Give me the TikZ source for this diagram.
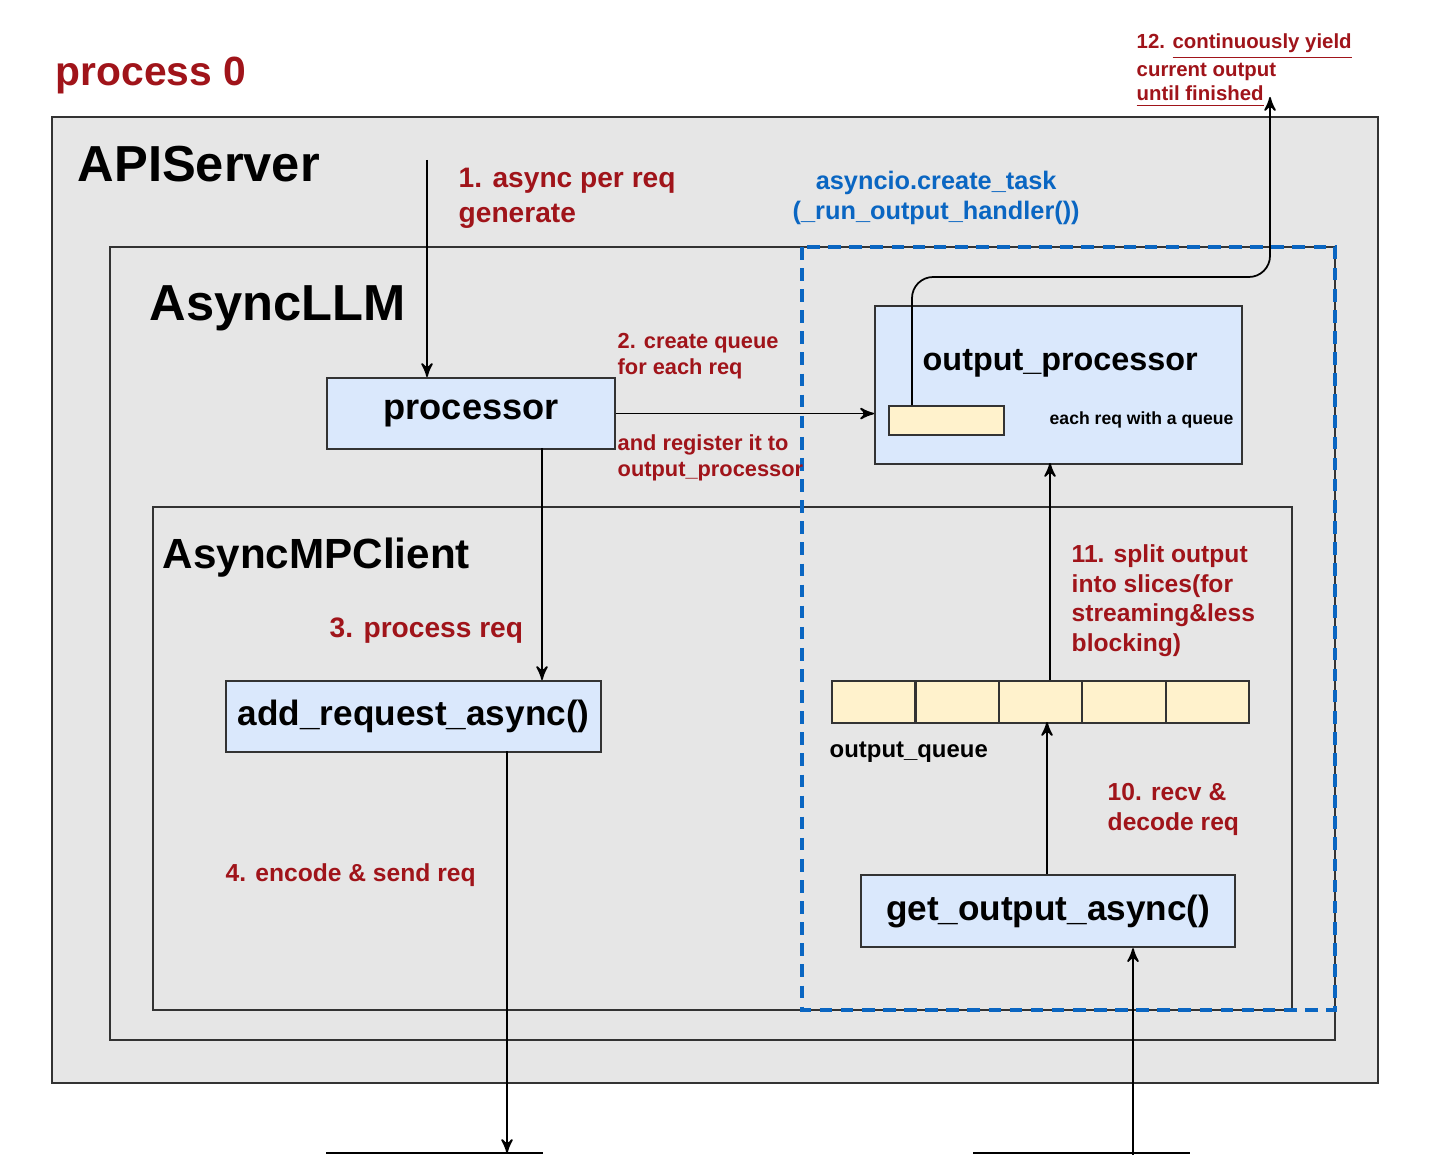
\documentclass[tikz,border=0pt]{standalone}
\usepackage{fontspec}
\setmainfont{Liberation Sans}
\usetikzlibrary{positioning, arrows}
\definecolor{darkred}{HTML}{A0141A}
\definecolor{linkblue}{HTML}{0A66C2}
\definecolor{boxblue}{HTML}{DAE8FC}
\definecolor{cellyellow}{HTML}{FFF2CC}
\definecolor{panelgray}{HTML}{E6E6E6}
\tikzset{
  panel/.style={draw=black!80, fill=panelgray, line width=0.6pt},
  block/.style={draw=black!80, fill=boxblue, line width=0.6pt, inner sep=0pt},
  cell/.style={draw=black!80, fill=cellyellow, line width=0.6pt, minimum width=0.834cm, minimum height=0.42cm, inner sep=0pt},
  note/.style={text=darkred, font=\bfseries, align=left, anchor=north west, inner sep=0pt},
  flow/.style={->, >=stealth', line width=0.5pt}
}
\begin{document}
\begin{tikzpicture}[x=0.01cm, y=-0.01cm]
\useasboundingbox (0,0) rectangle (1440,1155);
\fill[white] (0,0) rectangle (1440,1155);
\node[note, font=\bfseries\fontsize{11.6}{13}\selectfont] (title) at (55,56) {process 0};
\draw[panel] (52,117) rectangle (1378,1083);
\draw[panel] (110,247) rectangle (1335,1040);
\draw[panel] (153,507) rectangle (1292,1010);
\draw[linkblue, dash pattern=on 3.6pt off 2.4pt, line width=1.1pt] (802,247) rectangle (1335,1010);
\node[anchor=north west, inner sep=0pt, font=\bfseries\fontsize{14.4}{16}\selectfont] (api) at (77,145) {APIServer};
\node[anchor=north west, inner sep=0pt, font=\bfseries\fontsize{14.4}{16}\selectfont] (llm) at (149,285) {AsyncLLM};
\node[anchor=north west, inner sep=0pt, font=\bfseries\fontsize{12}{14}\selectfont] (mpc) at (162,537) {AsyncMPClient};
% blocks
\node[block, minimum width=2.88cm, minimum height=0.71cm, anchor=north west, font=\bfseries\fontsize{10.3}{12}\selectfont] (processor) at (326,377) {processor};
\node[block, minimum width=3.67cm, minimum height=1.58cm, anchor=north west] (outproc) at (874,305) {};
\node[anchor=north west, inner sep=0pt, font=\bfseries\fontsize{9.2}{11}\selectfont] (outproclabel) at (922,349) {output\_processor};
\node[cell, minimum width=1.15cm, minimum height=0.29cm, anchor=north west] (slot) at (888,405) {};
\node[anchor=west, inner sep=0pt, font=\bfseries\fontsize{5}{6}\selectfont] (slotlabel) at (1049,420) {each req with a queue};
\node[block, minimum width=3.75cm, minimum height=0.71cm, anchor=north west, font=\bfseries\fontsize{10}{12}\selectfont] (addreq) at (225,680) {add\_request\_async()};
\node[block, minimum width=3.74cm, minimum height=0.72cm, anchor=north west, font=\bfseries\fontsize{10}{12}\selectfont] (getout) at (860,874) {get\_output\_async()};
\foreach \i in {0,...,4}
  \node[cell, anchor=north west] (q\i) at ({831+83.4*\i},680) {};
\node[anchor=north west, inner sep=0pt, font=\bfseries\fontsize{6.8}{8}\selectfont] (qlabel) at (829,741) {output\_queue};
% labels
\node[note, font=\bfseries\fontsize{8}{10}\selectfont] (s1) at (458,167) {1. async per req\\generate};
\node[anchor=north west, inner sep=0pt, text=linkblue, font=\bfseries\fontsize{7.2}{8.8}\selectfont, align=center] (task) at (792,170) {asyncio.create\_task\\(\_run\_output\_handler())};
\node[note, font=\bfseries\fontsize{6.2}{7.4}\selectfont] (s2) at (617,333) {2. create queue\\for each req};
\node[note, font=\bfseries\fontsize{6.2}{7.4}\selectfont] (s2b) at (617,434) {and register it to\\output\_processor};
\node[note, font=\bfseries\fontsize{8}{10}\selectfont] (s3) at (329,617) {3. process req};
\node[note, font=\bfseries\fontsize{7}{8.4}\selectfont] (s4) at (225,863) {4. encode \& send req};
\node[note, font=\bfseries\fontsize{7}{8.4}\selectfont] (s10) at (1107,783) {10. recv \&\\decode req};
\node[note, font=\bfseries\fontsize{7}{8.4}\selectfont] (s11) at (1071,544) {11. split output\\into slices(for\\streaming\&less\\blocking)};
\node[note, font=\bfseries\fontsize{5.8}{6.8}\selectfont] (s12) at (1136,33) {12. \underline{continuously yield}\\current output\\\underline{until finished}};
% connectors
\coordinate (reqin) at (427,160);
\coordinate (sendout) at (507,1153);
\coordinate (recvin) at (1133,1155);
\coordinate (yieldend) at (1270,97);
\coordinate (yieldturn) at (1270,277);
\draw[flow] (reqin) -- (reqin |- processor.north);
\draw[flow] (processor.east) -- (processor.east -| outproc.west);
\draw[flow] (542,448) -- (542,680);
\draw[flow] (507,751) -- (sendout);
\draw[flow] (recvin) -- (recvin |- getout.south);
\draw[flow] (1047,874) -- (1047,722);
\draw[flow] (1050,680) -- (1050,463);
\draw[flow, rounded corners=6pt] (912,405) -- (912,277) -- (yieldturn) -- (yieldend);
\draw[line width=0.6pt] (326,1153) -- (543,1153);
\draw[line width=0.6pt] (973,1153) -- (1190,1153);
\end{tikzpicture}
\end{document}
